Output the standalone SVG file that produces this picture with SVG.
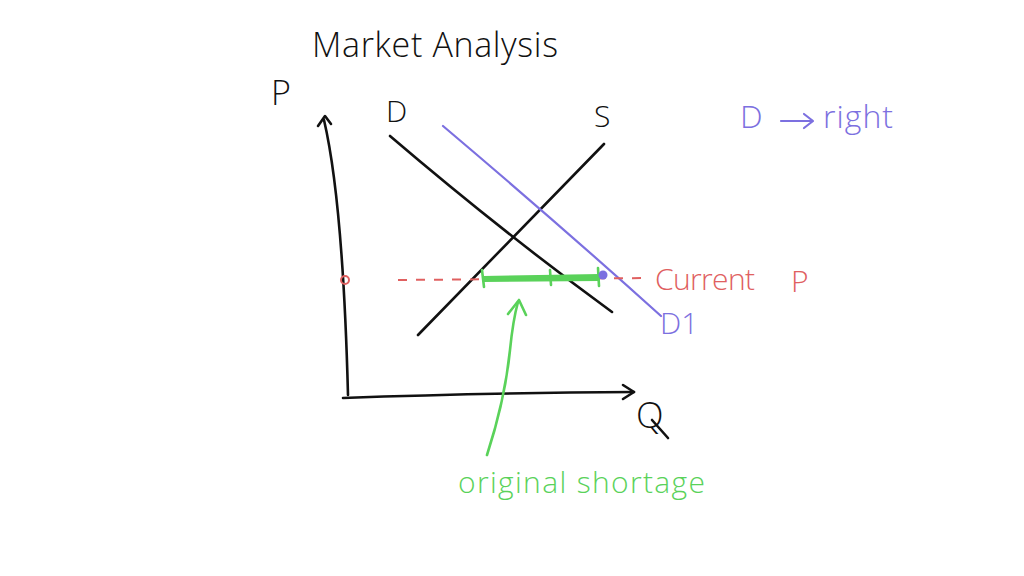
<svg xmlns="http://www.w3.org/2000/svg" width="1024" height="576" viewBox="0 0 1024 576">
<style>
.k{fill:none;stroke:#111;stroke-width:2.6;stroke-linecap:round;stroke-linejoin:round}
.pu{fill:none;stroke:#7c70e0;stroke-width:2.2;stroke-linecap:round;stroke-linejoin:round}
.rd{fill:none;stroke:#e06060;stroke-width:2;stroke-dasharray:9 9}
.gr{fill:none;stroke:#5ad25a;stroke-width:2.6;stroke-linecap:round;stroke-linejoin:round}
text{font-family:"Open Sans","Liberation Sans",sans-serif;font-weight:300}
</style>
<rect width="1024" height="576" fill="#fff"/>
<g id="title"><text x="312" y="57" font-size="34" textLength="246" fill="#111">Market Analysis</text></g>
<g id="axes">
<path class="k" d="M324,120 C338,180 345,280 348,395"/>
<path class="k" d="M318,126 L325,116 L331,124"/>
<path class="k" d="M343,398 Q480,393 634,392"/>
<path class="k" d="M623,385 L634,392 L623,399"/>
<text x="271" y="105" font-size="34" fill="#111">P</text>
<text x="636" y="428" font-size="36" fill="#111">Q</text>
<path class="k" d="M652,420 L668,438"/>
</g>
<g id="curves">
<path class="k" d="M390,136 Q500,230 612,312"/>
<text x="386" y="122" font-size="30" fill="#111">D</text>
<path class="k" d="M418,335 Q510,240 604,144"/>
<text x="594" y="127" font-size="30" fill="#111">S</text>
<path class="pu" d="M443,126 Q560,225 661,316"/>
<text x="660" y="334" font-size="30" fill="#7c70e0">D1</text>
</g>
<g id="current-price">
<line class="rd" x1="398" y1="280" x2="650" y2="278"/>
<circle cx="345" cy="280" r="4" fill="none" stroke="#e06060" stroke-width="2"/>
<text x="655" y="290" font-size="30" fill="#e06060" textLength="100">Current</text>
<text x="791" y="292" font-size="30" fill="#e06060">P</text>
</g>
<g id="shortage">
<path d="M483,276 L600,274 L600,281 L483,282 Z" fill="#5ad25a"/>
<path class="gr" d="M482,270 L484,287 M550,270 L551,285 M598,268 L599,286"/>
<circle cx="603" cy="275" r="4.5" fill="#7c70e0"/>
</g>
<g id="connectors">
<path class="gr" d="M487,455 Q505,400 510,350 Q513,320 518,302"/>
<path class="gr" d="M508,314 L519,300 L526,315"/>
</g>
<g id="labels">
<text x="740" y="128" font-size="32" fill="#7c70e0">D</text>
<path class="pu" d="M781,121 L812,121 M804,114 L813,121 L804,128"/>
<text x="823" y="128" font-size="32" fill="#7c70e0" textLength="70">right</text>
<text x="458" y="493" font-size="30" fill="#5ad25a" textLength="247">original shortage</text>
</g>
</svg>
